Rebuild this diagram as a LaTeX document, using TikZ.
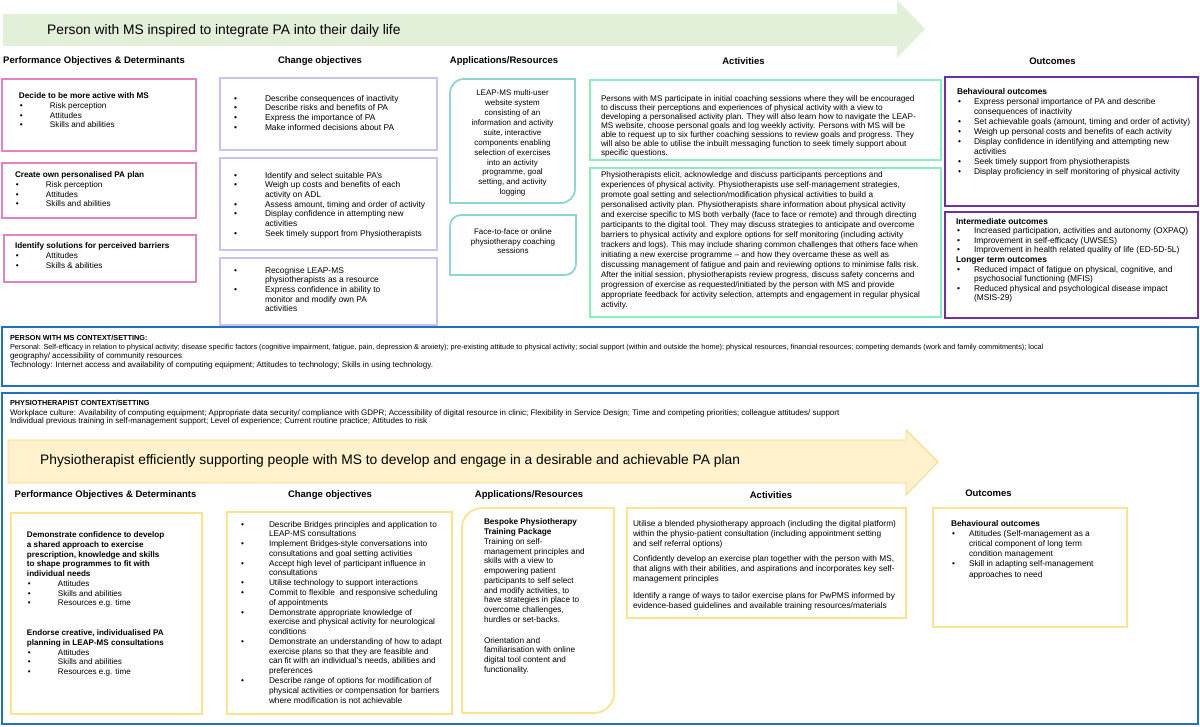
\documentclass[tikz,border=0pt]{standalone}
\usepackage{fontspec}
\setmainfont{Liberation Sans}
\definecolor{cPink}{RGB}{226,130,196}
\definecolor{cLav}{RGB}{200,194,240}
\definecolor{cTeal}{RGB}{140,214,212}
\definecolor{cMint}{RGB}{138,238,190}
\definecolor{cPurp}{RGB}{112,48,160}
\definecolor{cBlue}{RGB}{36,112,190}
\definecolor{cYel}{RGB}{255,226,140}
\definecolor{cYelF}{RGB}{255,242,204}
\definecolor{cYelD}{RGB}{248,214,120}
\definecolor{cGrnF}{RGB}{226,240,218}
\newcommand\bu[2]{\makebox[#1pt][l]{\hspace{1pt}\textbullet}#2}
\newcommand\ct[2]{\hspace*{#1pt}#2}
\begin{document}
\begin{tikzpicture}[x=1pt,y=-1pt,
  box/.style={line width=1.8pt},
  tx/.style={anchor=north west, yshift=4pt, inner sep=0pt, outer sep=0pt, align=left,
    font=\fontsize{8.2}{9.6}\selectfont, execute at begin node={\rule{0pt}{7pt}}},
  txc/.style={tx, anchor=north, align=center},
  hd/.style={inner sep=0pt, font=\bfseries\fontsize{9.5}{11}\selectfont},
  ctx/.style={tx, font=\fontsize{7.3}{9}\selectfont},
  ctxb/.style={tx, font=\fontsize{8.0}{9}\selectfont},
  ttl/.style={anchor=west, inner sep=0pt, font=\fontsize{13.8}{16}\selectfont}
]
\useasboundingbox (0,0) rectangle (1200,727);
\fill[white] (0,0) rectangle (1200,727);

% ---------- top arrow ----------
\fill[cGrnF] (3,14) -- (897,14) -- (897,0) -- (925,29) -- (897,58) -- (897,46) -- (3,46) -- cycle;
\node[ttl] (t1) at (47,31) {Person with MS inspired to integrate PA into their daily life};

% ---------- top headers ----------
\node[hd] (h1) at (94,61) {Performance Objectives \& Determinants};
\node[hd] (h2) at (320,61) {Change objectives};
\node[hd] (h3) at (504,61) {Applications/Resources};
\node[hd] (h4) at (743.5,61) {Activities};
\node[hd] (h5) at (1052.5,61) {Outcomes};

% ---------- performance objectives (top) ----------
\draw[box,cPink] (2,79) rectangle (196,151);
\draw[box,cPink] (2,163) rectangle (196,218);
\draw[box,cPink] (4,235) rectangle (196,282);
\node[tx] (p1) at (19,97) {\textbf{Decide to be more active with MS}\\\bu{31}{Risk perception}\\\bu{31}{Attitudes}\\\bu{31}{Skills and abilities}};
\node[tx] (p2) at (15,176) {\textbf{Create own personalised PA plan}\\\bu{31}{Risk perception}\\\bu{31}{Attitudes}\\\bu{31}{Skills and abilities}};
\node[tx] (p3) at (15,247) {\textbf{Identify solutions for perceived barriers}\\\bu{31}{Attitudes}\\\bu{31}{Skills \& abilities}};

% ---------- change objectives (top) ----------
\draw[box,cLav] (220,78) rectangle (437,150);
\draw[box,cLav] (220,158) rectangle (437,250);
\draw[box,cLav] (220,258) rectangle (437,325);
\node[tx,font=\fontsize{8.4}{9.7}\selectfont] (c1) at (233,99) {\bu{32}{Describe consequences of inactivity}\\\bu{32}{Describe risks and benefits of PA}\\\bu{32}{Express the importance of PA}\\\bu{32}{Make informed decisions about PA}};
\node[tx,font=\fontsize{8.4}{9.7}\selectfont] (c2) at (233,176) {\bu{32}{Identify and select suitable PA’s}\\\bu{32}{Weigh up costs and benefits of each}\\\ct{32}{activity on ADL}\\\bu{32}{Assess amount, timing and order of activity}\\\bu{32}{Display confidence in attempting new}\\\ct{32}{activities}\\\bu{32}{Seek timely support from Physiotherapists}};
\node[tx,font=\fontsize{8.4}{9.7}\selectfont] (c3) at (233,271) {\bu{32}{Recognise LEAP-MS}\\\ct{32}{physiotherapists as a resource}\\\bu{32}{Express confidence in ability to}\\\ct{32}{monitor and modify own PA}\\\ct{32}{activities}};

% ---------- applications (top) ----------
\draw[box,cTeal] (450,141) [rounded corners=14pt] -- (450,79) -- (512,79) [sharp corners] -- (575,79) -- (575,141) [rounded corners=14pt] -- (575,203) -- (512,203) [sharp corners] -- (450,203) -- cycle;
\draw[box,cTeal] (450,245) [rounded corners=11pt] -- (450,215) -- (513,215) [sharp corners] -- (576,215) -- (576,245) [rounded corners=11pt] -- (576,275) -- (513,275) [sharp corners] -- (450,275) -- cycle;
\node[txc,font=\fontsize{8.0}{9.9}\selectfont] (a1) at (512.5,94) {LEAP-MS multi-user\\website system\\consisting of an\\information and activity\\suite, interactive\\components enabling\\selection of exercises\\into an activity\\programme, goal\\setting, and activity\\logging};
\node[txc,font=\fontsize{8.0}{9.6}\selectfont] (a2) at (513,233) {Face-to-face or online\\physiotherapy coaching\\sessions};

% ---------- activities (top) ----------
\draw[box,cMint] (590,80) rectangle (941,160);
\draw[box,cMint] (590,168) rectangle (941,317);
\node[tx,font=\fontsize{8.2}{9}\selectfont] (g1) at (601,100) {Persons with MS participate in initial coaching sessions where they will be encouraged\\to discuss their perceptions and experiences of physical activity with a view to\\developing a personalised activity plan. They will also learn how to navigate the LEAP-\\MS website, choose personal goals and log weekly activity. Persons with MS will be\\able to request up to six further coaching sessions to review goals and progress. They\\will also be able to utilise the inbuilt messaging function to seek timely support about\\specific questions.};
\node[tx,font=\fontsize{8.2}{10}\selectfont] (g2) at (601,176) {Physiotherapists elicit, acknowledge and discuss participants perceptions and\\experiences of physical activity. Physiotherapists use self-management strategies,\\promote goal setting and selection/modification physical activities to build a\\personalised activity plan. Physiotherapists share information about physical activity\\and exercise specific to MS both verbally (face to face or remote) and through directing\\participants to the digital tool. They may discuss strategies to anticipate and overcome\\barriers to physical activity and explore options for self monitoring (including activity\\trackers and logs). This may include sharing common challenges that others face when\\initiating a new exercise programme – and how they overcame these as well as\\discussing management of fatigue and pain and reviewing options to minimise falls risk.\\After the initial session, physiotherapists review progress, discuss safety concerns and\\progression of exercise as requested/initiated by the person with MS and provide\\appropriate feedback for activity selection, attempts and engagement in regular physical\\activity.};

% ---------- outcomes (top) ----------
\draw[box,cPurp] (945,77) rectangle (1198,206);
\draw[box,cPurp] (945,212) rectangle (1198,318);
\node[tx,font=\fontsize{8.4}{10}\selectfont] (o1) at (957,92) {\textbf{Behavioural outcomes}\\\bu{17}{Express personal importance of PA and describe}\\\ct{17}{consequences of inactivity}\\\bu{17}{Set achievable goals (amount, timing and order of activity)}\\\bu{17}{Weigh up personal costs and benefits of each activity}\\\bu{17}{Display confidence in identifying and attempting new}\\\ct{17}{activities}\\\bu{17}{Seek timely support from physiotherapists}\\\bu{17}{Display proficiency in self monitoring of physical activity}};
\node[tx,font=\fontsize{8.4}{9.6}\selectfont] (o2) at (956,222) {\textbf{Intermediate outcomes}\\\bu{18}{Increased participation, activities and autonomy (OXPAQ)}\\\bu{18}{Improvement in self-efficacy (UWSES)}\\\bu{18}{Improvement in health related quality of life (ED-5D-5L)}\\\textbf{Longer term outcomes}\\\bu{18}{Reduced impact of fatigue on physical, cognitive, and}\\\ct{18}{psychosocial functioning (MFIS)}\\\bu{18}{Reduced physical and psychological disease impact}\\\ct{18}{(MSIS-29)}};

% ---------- person context ----------
\draw[box,cBlue] (2,327) rectangle (1198,386);
\node[ctx] (x1h) at (10,338) {\textbf{PERSON WITH MS CONTEXT/SETTING:}};
\node[ctx] (x1a) at (10,347) {Personal: Self-efficacy in relation to physical activity; disease specific factors (cognitive impairment, fatigue, pain, depression \& anxiety); pre-existing attitude to physical activity; social support (within and outside the home); physical resources, financial resources; competing demands (work and family commitments); local};
\node[ctxb] (x1b) at (10,356) {geography/ accessibility of community resources};
\node[ctxb] (x1c) at (10,365) {Technology: Internet access and availability of computing equipment; Attitudes to technology; Skills in using technology.};

% ---------- physiotherapist context ----------
\draw[box,cBlue] (2,393) rectangle (1198,724);
\node[ctx] (x2h) at (10,403) {\textbf{PHYSIOTHERAPIST CONTEXT/SETTING}};
\node[ctxb] (x2a) at (10,412) {Workplace culture: Availability of computing equipment; Appropriate data security/ compliance with GDPR; Accessibility of digital resource in clinic; Flexibility in Service Design; Time and competing priorities; colleague attitudes/ support};
\node[ctxb] (x2b) at (10,421) {Individual previous training in self-management support; Level of experience; Current routine practice; Attitudes to risk};

% ---------- bottom arrow ----------
\filldraw[fill=cYelF, draw=cYelD, line width=0.8pt] (8,440) -- (906,440) -- (906,430) -- (938,462) -- (906,495) -- (906,483) -- (8,483) -- cycle;
\node[ttl] (t2) at (40,461) {Physiotherapist efficiently supporting people with MS to develop and engage in a desirable and achievable PA plan};

% ---------- bottom headers ----------
\node[hd] (bh1) at (105.5,495) {Performance Objectives \& Determinants};
\node[hd] (bh2) at (330,495) {Change objectives};
\node[hd] (bh3) at (529,495) {Applications/Resources};
\node[hd] (bh4) at (771,495) {Activities};
\node[hd] (bh5) at (988.5,493) {Outcomes};

% ---------- bottom boxes ----------
\draw[box,cYel] (11,513) rectangle (202,714);
\draw[box,cYel] (227,512) rectangle (452,714);
\draw[box,cYel] (462,610) [rounded corners=20pt] -- (462,508) -- (538,508) [sharp corners] -- (614,508) -- (614,610) [rounded corners=20pt] -- (614,713) -- (538,713) [sharp corners] -- (462,713) -- cycle;
\draw[box,cYel] (627,508) rectangle (906,618);
\draw[box,cYel] (933,508) rectangle (1127,627);

\node[tx,font=\fontsize{8.1}{9.7}\selectfont] (bp1) at (27,536) {\textbf{Demonstrate confidence to develop}\\\textbf{a shared approach to exercise}\\\textbf{prescription, knowledge and skills}\\\textbf{to shape programmes to fit with}\\\textbf{individual needs}\\\bu{31}{Attitudes}\\\bu{31}{Skills and abilities}\\\bu{31}{Resources e.g. time}};
\node[tx,font=\fontsize{8.1}{9.7}\selectfont] (bp2) at (27,634) {\textbf{Endorse creative, individualised PA}\\\textbf{planning in LEAP-MS consultations}\\\bu{31}{Attitudes}\\\bu{31}{Skills and abilities}\\\bu{31}{Resources e.g. time}};

\node[tx,font=\fontsize{8.3}{9.78}\selectfont] (bc) at (240,525) {\bu{29}{Describe Bridges principles and application to}\\\ct{29}{LEAP-MS consultations}\\\bu{29}{Implement Bridges-style conversations into}\\\ct{29}{consultations and goal setting activities}\\\bu{29}{Accept high level of participant influence in}\\\ct{29}{consultations}\\\bu{29}{Utilise technology to support interactions}\\\bu{29}{Commit to flexible\ \ and responsive scheduling}\\\ct{29}{of appointments}\\\bu{29}{Demonstrate appropriate knowledge of}\\\ct{29}{exercise and physical activity for neurological}\\\ct{29}{conditions}\\\bu{29}{Demonstrate an understanding of how to adapt}\\\ct{29}{exercise plans so that they are feasible and}\\\ct{29}{can fit with an individual’s needs, abilities and}\\\ct{29}{preferences}\\\bu{29}{Describe range of options for modification of}\\\ct{29}{physical activities or compensation for barriers}\\\ct{29}{where modification is not achievable}};

\node[tx,font=\fontsize{8.2}{9.75}\selectfont] (ba) at (484,523) {\textbf{Bespoke Physiotherapy}\\\textbf{Training Package}\\Training on self-\\management principles and\\skills with a view to\\empowering patient\\participants to self select\\and modify activities, to\\have strategies in place to\\overcome challenges,\\hurdles or set-backs.\\[11pt]Orientation and\\familiarisation with online\\digital tool content and\\functionality.};

\node[tx,font=\fontsize{8.3}{10}\selectfont] (bact) at (633,524) {Utilise a blended physiotherapy approach (including the digital platform)\\within the physio-patient consultation (including appointment setting\\and self referral options)\\[5pt]Confidently develop an exercise plan together with the person with MS,\\that aligns with their abilities, and aspirations and incorporates key self-\\management principles\\[7pt]Identify a range of ways to tailor exercise plans for PwPMS informed by\\evidence-based guidelines and available training resources/materials};

\node[tx,font=\fontsize{8.3}{10.2}\selectfont] (bo) at (951,524) {\textbf{Behavioural outcomes}\\\bu{18}{Attitudes (Self-management as a}\\\ct{18}{critical component of long term}\\\ct{18}{condition management}\\\bu{18}{Skill in adapting self-management}\\\ct{18}{approaches to need}};
\end{tikzpicture}
\end{document}
